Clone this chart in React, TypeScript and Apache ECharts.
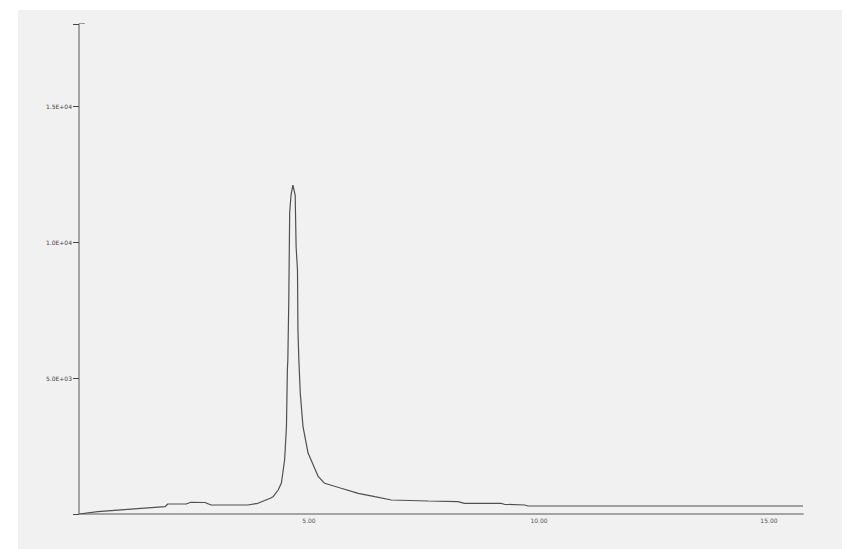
import React, { useEffect, useRef } from "react";
import * as echarts from "echarts";

const timeMin: number[] = [
  0, 0.41, 1.35, 1.87, 1.93, 2.33, 2.43, 2.74, 2.87, 3.67, 3.89, 4.17, 4.22, 4.33, 4.4, 4.47, 4.51, 4.53,
  4.54, 4.56, 4.58, 4.61, 4.65, 4.7, 4.72, 4.75, 4.76, 4.78, 4.81, 4.87, 4.98, 5.2, 5.34, 5.7, 6.07,
  6.43, 6.79, 7.59, 8.24, 8.38, 9.17, 9.25, 9.69, 9.76, 15.74,
];
const signal: number[] = [
  0, 88, 210, 268, 368, 368, 430, 423, 331, 331, 393, 588, 636, 882, 1140, 1985, 3209, 5293,
  5661, 7756, 11065, 11730, 12094, 11710, 9826, 8969, 6764, 5661, 4448, 3209, 2242, 1382, 1129, 945, 761,
  636, 515, 478, 452, 393, 393, 357, 331, 294, 294,
];
const yTickLabels: Record<number, string> = { 5000: "5.0E+03", 10000: "1.0E+04", 15000: "1.5E+04" };
const xTickLabels: Record<number, string> = { 5: "5.00", 10: "10.00", 15: "15.00" };

export default function App() {
  const ref = useRef<HTMLDivElement>(null);
  useEffect(() => {
    if (!ref.current) return;
    const chart = echarts.init(ref.current, undefined, { renderer: "svg" });
    const data = timeMin.map((t, i) => [t, signal[i]]);
    chart.setOption({
      animation: false,
      backgroundColor: "#ffffff",
      graphic: [
        { type: "rect", z: -10, shape: { x: 18, y: 10, width: 824, height: 545 }, style: { fill: "#f1f1f1" } },
        { type: "line", shape: { x1: 79, y1: 23.5, x2: 85, y2: 23.5 }, style: { stroke: "#9a9a9a", lineWidth: 1 } },
      ],
      grid: { left: 79, right: 45, top: 24.4, bottom: 35, containLabel: false },
      xAxis: {
        type: "value",
        min: 0,
        max: 15.74,
        interval: 5,
        axisLine: { show: true, onZero: false, lineStyle: { color: "#a4a4a4", width: 2 } },
        axisTick: { show: false },
        splitLine: { show: false },
        axisLabel: {
          show: true,
          margin: 3,
          fontSize: 6,
          color: "#555",
          fontFamily: "DejaVu Sans",
          formatter: (v: number) => xTickLabels[v] ?? "",
        },
      },
      yAxis: {
        type: "value",
        min: 0,
        max: 18000,
        interval: 5000,
        axisLine: { show: true, lineStyle: { color: "#a4a4a4", width: 2 } },
        axisTick: { show: true, length: 6, lineStyle: { color: "#444", width: 1 } },
        splitLine: { show: false },
        axisLabel: {
          show: true,
          margin: 7,
          fontSize: 6,
          color: "#444",
          fontFamily: "DejaVu Sans",
          formatter: (v: number) => yTickLabels[v] ?? "",
        },
      },
      series: [
        {
          type: "line",
          data,
          showSymbol: false,
          smooth: false,
          lineStyle: { color: "#505050", width: 1.2 },
        },
      ],
    });
    return () => chart.dispose();
  }, []);
  return (
    <div
      ref={ref}
      style={{ position: "fixed", left: 0, top: 0, width: 848, height: 549 }}
    />
  );
}
